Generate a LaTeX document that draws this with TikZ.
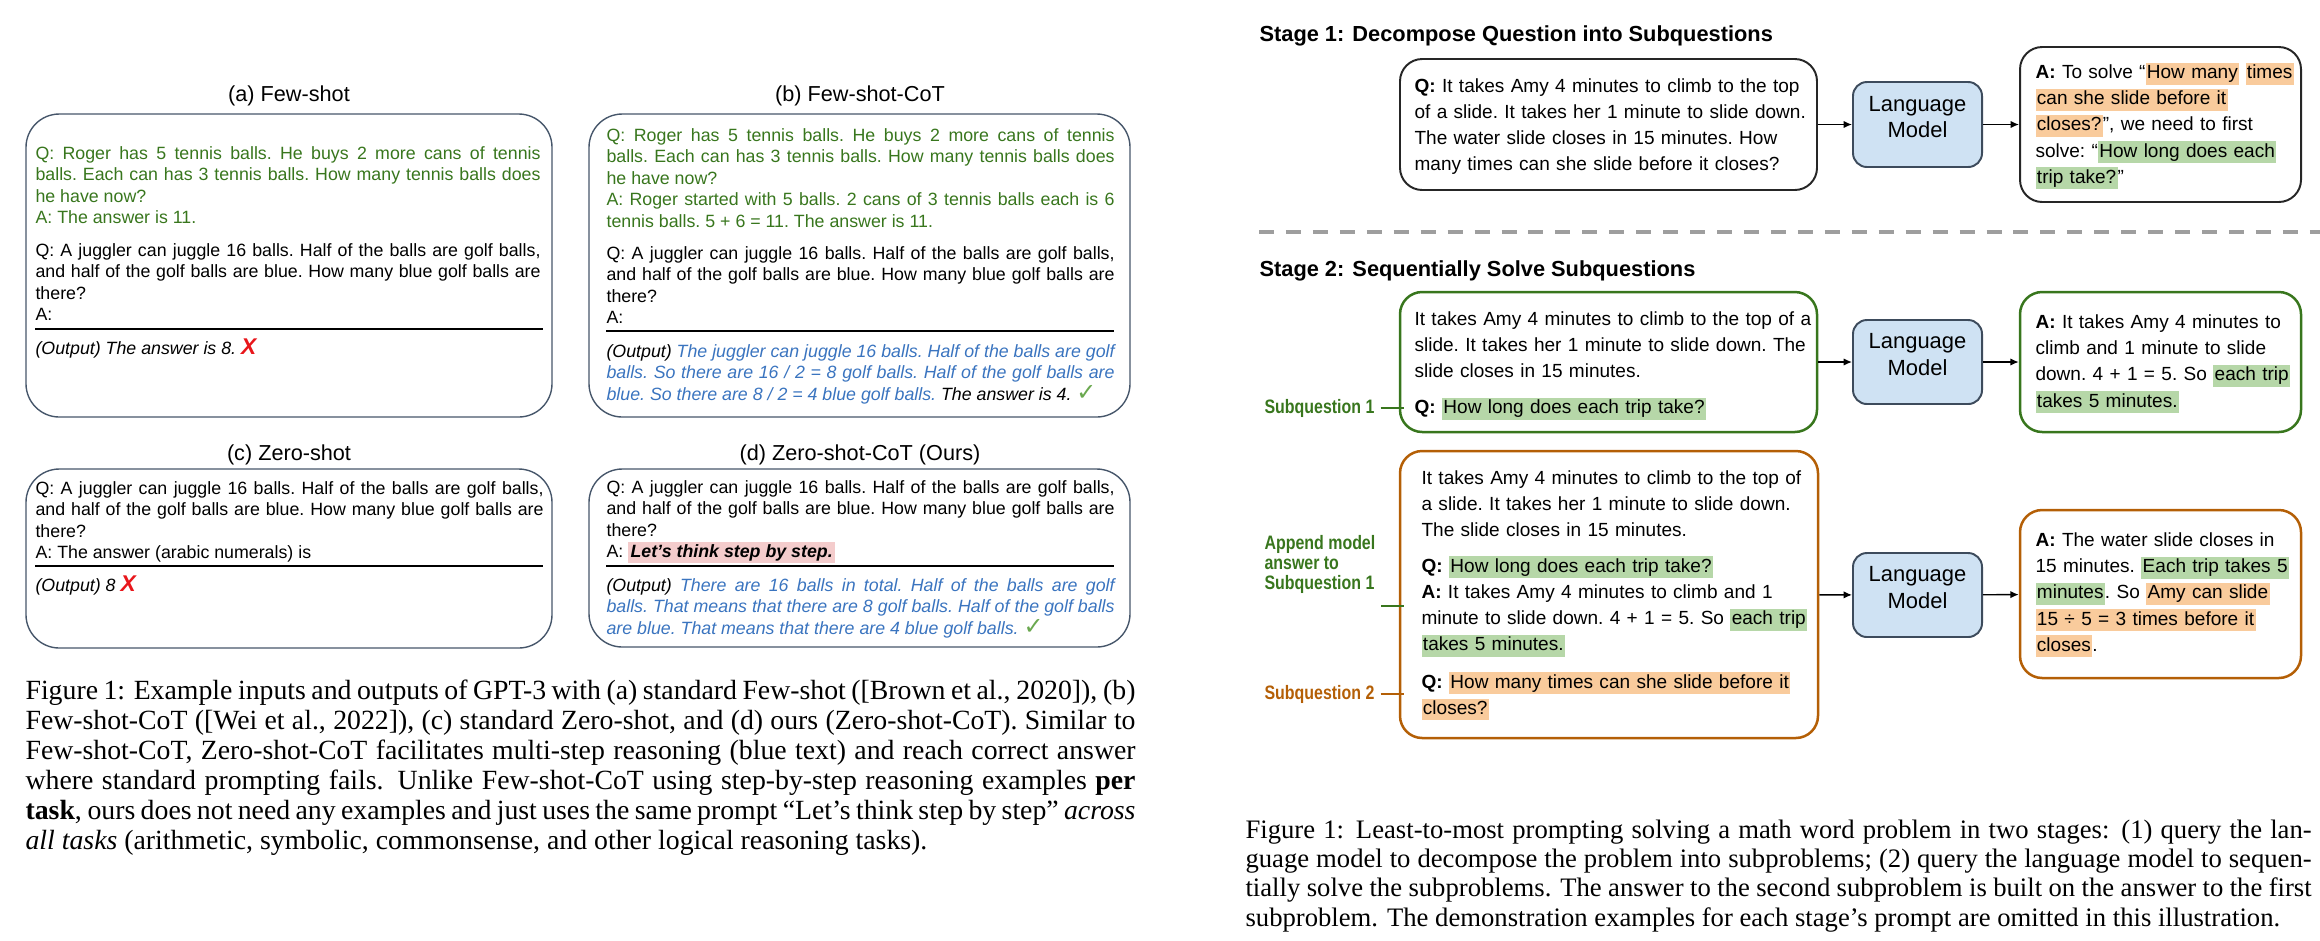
\documentclass[tikz,border=0pt]{standalone}
\usepackage{fontspec}
\setmainfont{Liberation Serif}
\setsansfont{Liberation Sans}
\newfontfamily\checkfont{DejaVu Sans}
\newfontfamily\labelfont[FakeStretch=0.82]{Liberation Sans}
\usepackage{tikz}
\usetikzlibrary{arrows.meta,fit}

\definecolor{demogreen}{HTML}{38761D}
\definecolor{cotblue}{HTML}{3A74BF}
\definecolor{checkgreen}{HTML}{6AA84F}
\definecolor{crossred}{HTML}{E8161B}
\definecolor{panelgray}{HTML}{46566A}
\definecolor{hlpink}{HTML}{F4CCCC}
\definecolor{hlgreen}{HTML}{B6D7A8}
\definecolor{hlorange}{HTML}{F9CB9C}
\definecolor{subgreen}{HTML}{38761D}
\definecolor{suborange}{HTML}{B45F06}
\definecolor{lmfill}{HTML}{CFE2F3}
\definecolor{lmdraw}{HTML}{3D4B5C}
\definecolor{dashgray}{HTML}{9E9E9E}

\newcommand{\xmark}{{\fontsize{8.2}{8}\selectfont\textcolor{crossred}{\textbf{\textit{X}}}}}
\newcommand{\cmark}{{\checkfont\fontsize{8.6}{8}\selectfont\textcolor{checkgreen}{✓}}}
\newcommand{\hlg}[1]{{\setlength{\fboxsep}{0.5pt}\colorbox{hlgreen}{\rule[-1.7pt]{0pt}{6.9pt}#1}}}
\newcommand{\hlo}[1]{{\setlength{\fboxsep}{0.5pt}\colorbox{hlorange}{\rule[-1.7pt]{0pt}{6.9pt}#1}}}

\begin{document}
\begin{tikzpicture}[x=0.36pt, y=-0.36pt,
  panel/.style={draw=panelgray, line width=0.5pt, rounded corners=12pt, inner sep=0pt},
  paneltitle/.style={anchor=base, inner sep=0pt, font=\sffamily\fontsize{7.8}{9}\selectfont},
  prompt/.style={anchor=base west, inner sep=0pt, align=justify, font=\sffamily\frenchspacing\fontsize{6.4}{7.74}\selectfont},
  outrule/.style={line width=0.6pt},
  figcaption/.style={anchor=base west, inner sep=0pt, align=justify},
  stagebox/.style={draw=black!85, line width=0.7pt, rounded corners=8pt, inner sep=0pt},
  subbox/.style={stagebox, draw=#1, line width=0.9pt},
  lmbox/.style={fill=lmfill, draw=lmdraw, line width=0.7pt, rounded corners=5pt, inner sep=0pt, align=center, font=\sffamily\fontsize{7.9}{9.6}\selectfont},
  boxtext/.style={anchor=base west, inner sep=0pt, align=left, font=\sffamily\frenchspacing\fontsize{6.85}{9.43}\selectfont},
  stagehead/.style={anchor=base west, inner sep=0pt, font=\sffamily\bfseries\fontsize{7.85}{9}\selectfont},
  sublabel/.style={anchor=base west, inner sep=0pt, text=#1, font=\labelfont\bfseries\fontsize{7}{7.2}\selectfont},
  subline/.style={draw=#1, line width=0.9pt, shorten <=2pt, shorten >=-2pt},
  flowarrow/.style={-{Latex[length=3pt,width=2.6pt]}, line width=0.5pt}]
  \useasboundingbox (0,0) rectangle (2320,940);

  % (a) Few-shot
  \node[panel, fit={(26,114) (552,417)}] (fewshot) {};
  \node[paneltitle] (fewshottitle) at (289,101) {(a) Few-shot};
  \node[prompt, text width=181.8pt, text=demogreen] (fewshotdemo) at (35,159) {Q: Roger has 5 tennis balls. He buys 2 more cans of tennis\linebreak balls. Each can has 3 tennis balls. How many tennis balls does\linebreak he have now?\\A: The answer is 11.};
  \node[prompt, text width=181.8pt] (fewshotq) at (35,256) {Q: A juggler can juggle 16 balls. Half of the balls are golf balls,\linebreak and half of the golf balls are blue. How many blue golf balls are\linebreak there?\\A:};
  \draw[outrule] (35,329) -- (543,329);
  \node[prompt, text width=181.8pt] (fewshotout) at (35,354) {\textit{(Output) The answer is 8.} \xmark};

  % (b) Few-shot-CoT
  \node[panel, fit={(589,114) (1130,417)}] (fewcot) {};
  \node[paneltitle] (fewcottitle) at (860,101) {(b) Few-shot-CoT};
  \node[prompt, text width=182.9pt, text=demogreen] (fewcotdemo) at (606,141) {Q: Roger has 5 tennis balls. He buys 2 more cans of tennis\linebreak balls. Each can has 3 tennis balls. How many tennis balls does\linebreak he have now?\\A: Roger started with 5 balls. 2 cans of 3 tennis balls each is 6\linebreak tennis balls. 5 + 6 = 11. The answer is 11.};
  \node[prompt, text width=182.9pt] (fewcotq) at (606,259) {Q: A juggler can juggle 16 balls. Half of the balls are golf balls,\linebreak and half of the golf balls are blue. How many blue golf balls are\linebreak there?\\A:};
  \draw[outrule] (606,331) -- (1114,331);
  \node[prompt, text width=182.9pt] (fewcotout) at (606,357) {\textit{(Output) \textcolor{cotblue}{The juggler can juggle 16 balls. Half of the balls are golf\linebreak balls. So there are 16 / 2 = 8 golf balls. Half of the golf balls are\linebreak blue. So there are 8 / 2 = 4 blue golf balls.} The answer is 4.} \cmark};

  % (c) Zero-shot
  \node[panel, fit={(26,469) (552,648)}] (zeroshot) {};
  \node[paneltitle] (zeroshottitle) at (289,460) {(c) Zero-shot};
  \node[prompt, text width=182.9pt] (zeroshotq) at (35,494) {Q: A juggler can juggle 16 balls. Half of the balls are golf balls,\linebreak and half of the golf balls are blue. How many blue golf balls are\linebreak there?\\A: The answer (arabic numerals) is};
  \draw[outrule] (35,566) -- (543,566);
  \node[prompt, text width=182.9pt] (zeroshotout) at (35,591) {\textit{(Output) 8} \xmark};

  % (d) Zero-shot-CoT
  \node[panel, fit={(589,469) (1130,647)}] (zerocot) {};
  \node[paneltitle] (zerocottitle) at (860,460) {(d) Zero-shot-CoT (Ours)};
  \node[prompt, text width=182.9pt] (zerocotq) at (606,493) {Q: A juggler can juggle 16 balls. Half of the balls are golf balls,\linebreak and half of the golf balls are blue. How many blue golf balls are\linebreak there?\\A: {\setlength{\fboxsep}{0.8pt}\colorbox{hlpink}{\textbf{\textit{Let’s think step by step.}}}}};
  \draw[outrule] (606,566) -- (1114,566);
  \node[prompt, text width=182.9pt] (zerocotout) at (606,591) {\textit{(Output) \textcolor{cotblue}{There are 16 balls in total. Half of the balls are golf\linebreak balls. That means that there are 8 golf balls. Half of the golf balls\linebreak are blue. That means that there are 4 blue golf balls.}} \cmark};

  % Caption, left figure
  \node[figcaption, text width=399.6pt, font=\fontsize{10}{10.87}\selectfont] (leftcap) at (25,699) {Figure 1: Example inputs and outputs of GPT-3 with (a) standard Few-shot ([Brown et al., 2020]), (b)\linebreak Few-shot-CoT ([Wei et al., 2022]), (c) standard Zero-shot, and (d) ours (Zero-shot-CoT). Similar to\linebreak Few-shot-CoT, Zero-shot-CoT facilitates multi-step reasoning (blue text) and reach correct answer\linebreak where standard prompting fails. Unlike Few-shot-CoT using step-by-step reasoning examples \textbf{per}\linebreak \textbf{task}, ours does not need any examples and just uses the same prompt “Let’s think step by step” \textit{across}\linebreak \textit{all tasks} (arithmetic, symbolic, commonsense, and other logical reasoning tasks).};

  % Stage 1
  \node[stagehead] (stageone) at (1259,41) {Stage 1: Decompose Question into Subquestions};
  \node[stagebox, fit={(1400,59) (1817,190)}] (decq) {};
  \node[boxtext, text width=151pt] (decqtext) at (1414,92) {\textbf{Q:} It takes Amy 4 minutes to climb to the top\\of a slide. It takes her 1 minute to slide down.\\The water slide closes in 15 minutes. How\\many times can she slide before it closes?};
  \node[lmbox, fit={(1853,82) (1982,167)}] (lmone) {Language\\Model};
  \node[stagebox, fit={(2020,47) (2301,202)}] (deca) {};
  \node[boxtext, text width=108pt] (decatext) at (2035,78.5) {\textbf{A:} To solve “\hlo{How many} \hlo{times}\\\hlo{can she slide before it}\\\hlo{closes?}”, we need to first\\solve: “\hlg{How long does each}\\\hlg{trip take?}”};
  \draw[flowarrow] (decq) -- (lmone);
  \draw[flowarrow] (lmone) -- (deca);

  % Separator
  \draw[dashgray, line width=1.5pt, dash pattern=on 5.4pt off 4.3pt] (1259,232) -- (2320,232);

  % Stage 2
  \node[stagehead] (stagetwo) at (1259,276) {Stage 2: Sequentially Solve Subquestions};
  \node[subbox=subgreen, fit={(1400,292) (1817,432)}] (solveq) {};
  \node[boxtext, text width=151pt] (solveqtext) at (1414,325) {It takes Amy 4 minutes to climb to the top of a\\slide. It takes her 1 minute to slide down. The\\slide closes in 15 minutes.\\[3.7pt]\textbf{Q:} \hlg{How long does each trip take?}};
  \node[lmbox, fit={(1853,320) (1982,404)}] (lmtwo) {Language\\Model};
  \node[subbox=subgreen, fit={(2020,292) (2301,432)}] (solvea) {};
  \node[boxtext, text width=108pt] (solveatext) at (2035,328.5) {\textbf{A:} It takes Amy 4 minutes to\\climb and 1 minute to slide\\down. 4 + 1 = 5. So \hlg{each trip}\\\hlg{takes 5 minutes.}};
  \draw[flowarrow] (solveq) -- (lmtwo);
  \draw[flowarrow] (lmtwo) -- (solvea);
  \node[sublabel=subgreen] (subone) at (1264,413) {Subquestion 1};
  \draw[subline=subgreen] (subone.east) -- (subone.east -| solveq.west);

  \node[subbox=suborange, fit={(1400,451) (1818,738)}] (appendq) {};
  \node[boxtext, text width=151pt] (appendqtext) at (1421,484.5) {It takes Amy 4 minutes to climb to the top of\\a slide. It takes her 1 minute to slide down.\\The slide closes in 15 minutes.\\[3.3pt]\textbf{Q:} \hlg{How long does each trip take?}\\\textbf{A:} It takes Amy 4 minutes to climb and 1\\minute to slide down. 4 + 1 = 5. So \hlg{each trip}\\\hlg{takes 5 minutes.}\\[4pt]\textbf{Q:} \hlo{How many times can she slide before it}\\\hlo{closes?}};
  \node[lmbox, fit={(1853,553) (1982,637)}] (lmthree) {Language\\Model};
  \node[subbox=suborange, fit={(2020,510) (2301,678)}] (appenda) {};
  \node[boxtext, text width=108pt] (appendatext) at (2035,546.5) {\textbf{A:} The water slide closes in\\15 minutes. \hlg{Each trip takes 5}\\\hlg{minutes}. So \hlo{Amy can slide}\\\hlo{15 ÷ 5 = 3 times before it}\\\hlo{closes}.};
  \draw[flowarrow] (appendq) -- (lmthree);
  \draw[flowarrow] (lmthree) -- (appenda);
  \node[sublabel=subgreen, align=left] (appendlabel) at (1264,589) {Append model\\answer to\\Subquestion 1};
  \coordinate (appendtick) at (1381,606);
  \draw[subline=subgreen, shorten <=0pt] (appendtick) -- (appendtick -| appendq.west);
  \node[sublabel=suborange] (subtwo) at (1264,699) {Subquestion 2};
  \draw[subline=suborange] (subtwo.east) -- (subtwo.east -| appendq.west);

  % Caption, right figure
  \node[figcaption, text width=383.8pt, font=\fontsize{9.6}{10.6}\selectfont] (rightcap) at (1245,838) {Figure 1: Least-to-most prompting solving a math word problem in two stages: (1) query the lan-\linebreak guage model to decompose the problem into subproblems; (2) query the language model to sequen-\linebreak tially solve the subproblems. The answer to the second subproblem is built on the answer to the first\linebreak subproblem. The demonstration examples for each stage’s prompt are omitted in this illustration.};
\end{tikzpicture}
\end{document}
